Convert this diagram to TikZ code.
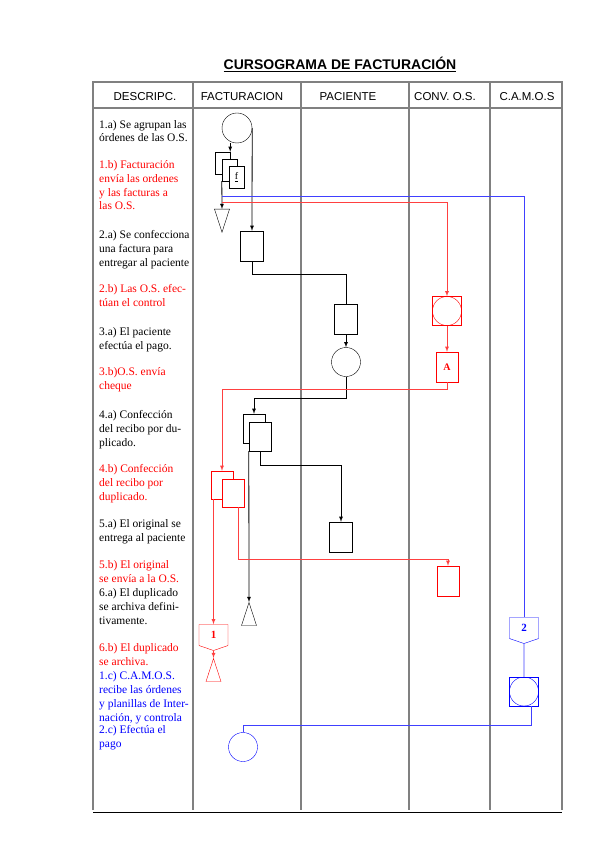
\documentclass[tikz,border=0pt]{standalone}
\usepackage{fontspec}
\setmainfont{Liberation Serif}
\setsansfont{Liberation Sans}
\usetikzlibrary{positioning}
\usetikzlibrary{calc}
\usetikzlibrary{shapes.geometric}
\usetikzlibrary{shapes.symbols}
\tikzset{>=latex}
\tikzset{lane/.style={draw=gray, line width=1.4pt}}
\tikzset{hd/.style={anchor=base, font=\sffamily\fontsize{11.5}{13}\selectfont}}
\tikzset{desc/.style={anchor=base west, align=left, inner sep=0pt, font=\fontsize{11.5}{13.7}\selectfont}}
\tikzset{box/.style={draw, fill=white, inner sep=0pt, minimum width=23pt, minimum height=30pt}}
\tikzset{oper/.style={draw, circle, minimum size=29pt, inner sep=0pt}}
\tikzset{csq/.style={draw=#1, minimum size=29pt, inner sep=0pt,
  path picture={\draw[#1] (path picture bounding box.center) circle (14.5pt);}}}
\tikzset{arch/.style={draw, fill=white, isosceles triangle, isosceles triangle stretches,
  minimum width=15pt, minimum height=23pt, inner sep=0pt}}
\tikzset{offp/.style={draw, signal, signal to=south, signal pointer angle=142,
  minimum width=29pt, minimum height=22pt, inner sep=0pt, font=\bfseries\fontsize{11}{11}\selectfont}}
\tikzset{ln/.style={line width=0.8pt}}

\begin{document}
\begin{tikzpicture}[x=1pt, y=-1pt]
\useasboundingbox (0,0) rectangle (595,842);

%%% The frame

\node[font=\sffamily\bfseries\fontsize{14}{16}\selectfont, anchor=base] (title) at (340,70) {\underline{CURSOGRAMA DE FACTURACIÓN}};

\draw[lane] (93,810) -- (93,82) -- (562,82) -- (562,810);
\draw[lane] (93,108) -- (562,108);
\foreach \x in {193,301,409,490}
  \draw[lane] (\x,82) -- (\x,810);
\draw[ln] (93,812) -- (562,812);

\node[hd] (h1) at (145,101) {DESCRIPC.};
\node[hd] (h2) at (242,101) {FACTURACION};
\node[hd] (h3) at (348,101) {PACIENTE};
\node[hd] (h4) at (445,101) {CONV. O.S.};
\node[hd] (h5) at (527,101) {C.A.M.O.S};

%%% The descriptions (placed at their last baseline)

\node[desc] (a1) at (99,142) {1.a) Se agrupan las\\órdenes de las O.S.};
\node[desc, red] (b1) at (99,210) {1.b) Facturación\\envía las ordenes\\y las facturas a\\las O.S.};
\node[desc] (a2) at (99,266) {2.a) Se confecciona\\una factura para\\entregar al paciente};
\node[desc, red] (b2) at (99,306) {2.b) Las O.S. efec-\\túan el control};
\node[desc] (a3) at (99,349) {3.a) El paciente\\efectúa el pago.};
\node[desc, red] (b3) at (99,389) {3.b)O.S. envía\\cheque};
\node[desc] (a4) at (99,446) {4.a) Confección\\del recibo por du-\\plicado.};
\node[desc, red] (b4) at (99,500) {4.b) Confección\\del recibo por\\duplicado.};
\node[desc] (a5) at (99,541) {5.a) El original se\\entrega al paciente};
\node[desc, red] (b5) at (99,582) {5.b) El original\\se envía a la O.S.};
\node[desc] (a6) at (99,624) {6.a) El duplicado\\se archiva defini-\\tivamente.};
\node[desc, red] (b6) at (99,665) {6.b) El duplicado\\se archiva.};
\node[desc, blue] (c1t) at (99,721) {1.c) C.A.M.O.S.\\recibe las órdenes\\y planillas de Inter-\\nación, y controla};
\node[desc, blue] (c2t) at (99,747) {2.c) Efectúa el\\pago};

%%% The black part

\node[oper, minimum size=30pt] (c1) at (237,128) {};
\begin{scope}[on grid]
\node[box, minimum width=15pt, minimum height=22pt] (d1) at (222.5,163) {};
\node[box, minimum width=15pt, minimum height=22pt, below right=7pt and 7pt of d1] (d2) {};
\node[box, minimum width=15pt, minimum height=22pt, below right=7pt and 7pt of d2] (d3) {$\underline{\mathrm{f}}$};
\end{scope}
\node[arch, shape border rotate=270, anchor=lower side] (t1) at (222,209) {};
\node[box] (r1) at (252,246) {};
\node[box] (r2) at (346,319) {};
\node[oper] (c2) at (346,362) {};
\begin{scope}[on grid]
\node[box, minimum width=22pt, minimum height=29pt] (s1) at (254,428.5) {};
\node[box, minimum width=22pt, minimum height=29pt, below right=8pt and 6pt of s1] (s2) {};
\end{scope}
\node[box] (r3) at (341,537) {};
\node[arch, shape border rotate=90, anchor=apex] (t2) at (249,602) {};

\draw[ln,->] (d1.north east |- c1.south) -- (d1.north east);
\draw[ln,->] (d2.south west) -- (t1.lower side);
\draw[ln,->] (c1.east) -- (r1.north);
\draw[ln] (r1.south) -- ++(0,13) -| (r2.north);
\draw[ln,->] (r2) -- (c2);
\draw[ln,->] (c2.south) -- ++(0,22) -| (s1.north);
\draw[ln,->] (s2.south) -- ++(0,14) -| (r3.north);
\draw[ln,->] (s2.south west) -- (t2.apex);

%%% The red part

\coordinate (k2) at (222,202);
\node[csq=red] (cs1) at (447,311) {};
\node[box, draw=red, minimum width=22pt, text=red, font=\bfseries] (ra) at (447,367) {A};
\begin{scope}[on grid]
\node[box, draw=red, minimum width=22pt, minimum height=28pt] (rs1) at (222,485) {};
\node[box, draw=red, minimum width=22pt, minimum height=28pt, below right=8pt and 11pt of rs1] (rs2) {};
\end{scope}
\node[box, draw=red, minimum width=22pt] (rr) at (448,581) {};
\node[offp, draw=red, text=red] (p1) at (213.5,635) {1};
\node[arch, draw=red, shape border rotate=90, anchor=apex] (t3) at (213.5,658) {};

\draw[ln,red!75,->] (k2) -| (cs1.north);
\draw[ln,red!75,->] (cs1) -- (ra);
\draw[ln,red!75,->] (ra.south) -- ++(0,7) -| (rs1.north);
\draw[ln,red!75,->] (p1.north |- rs1.south) -- (p1.north);
\draw[ln,red!75,->] ([xshift=5pt]rs2.south) -- ++(0,52) -| (rr.north);
\draw[ln,red!75,->] (p1.south) -- (t3.apex);

%%% The blue part

\coordinate (k1) at (222,196);
\node[offp, draw=blue, text=blue] (p2) at (524,628) {2};
\node[csq=blue] (cs2) at (524,691.5) {};
\node[oper, draw=blue] (c3) at (243,747) {};

\draw[ln,blue!75] (k1) -| (p2.north);
\draw[ln,blue!75] (p2) -- (cs2);
\draw[ln,blue!75] ([xshift=7pt]cs2.south) -- ++(0,19) -| (c3.north);

\end{tikzpicture}
\end{document}
